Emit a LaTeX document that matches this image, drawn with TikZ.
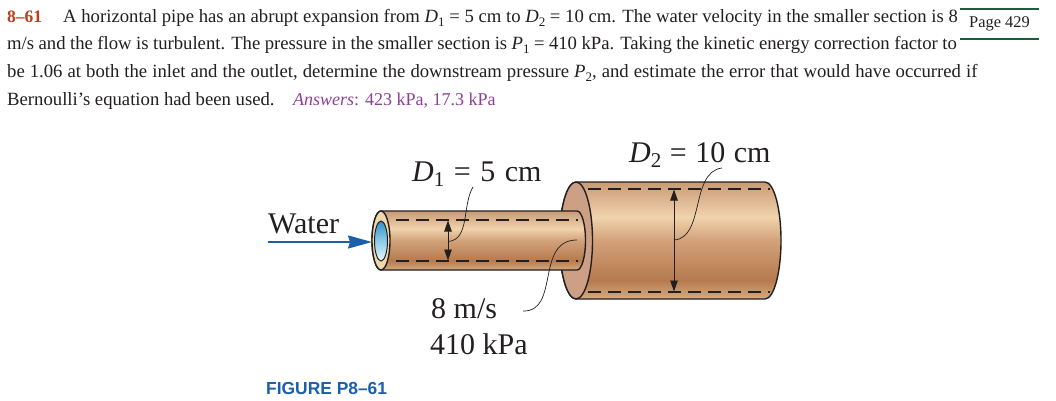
\documentclass[tikz,border=0pt]{standalone}
\usepackage{fontspec}
\setmainfont{Liberation Serif}
\setsansfont{Liberation Sans}
\usetikzlibrary{arrows.meta}
\definecolor{redh}{HTML}{B5401E}
\definecolor{purp}{HTML}{8E3F96}
\definecolor{pgreen}{HTML}{1C5C3C}
\definecolor{fblue}{HTML}{1B5FAA}
\definecolor{ink}{HTML}{231F20}
\definecolor{face}{HTML}{CDA085}
\definecolor{ring}{HTML}{EFD9AC}
\definecolor{cuA}{HTML}{D4AC80}
\definecolor{cuB}{HTML}{B67A4E}
\definecolor{cuC}{HTML}{D2A27A}
\definecolor{cuD}{HTML}{F0D3AC}
\definecolor{cuE}{HTML}{C99A76}
\definecolor{wLight}{HTML}{E8F6FA}
\definecolor{wMid}{HTML}{8ECDE8}
\definecolor{wDark}{HTML}{2F8FC8}
\pgfdeclareverticalshading{copper}{100bp}{
 color(0bp)=(cuA);
 color(25bp)=(cuA); color(33bp)=(cuB); color(50bp)=(cuC); color(60bp)=(cuD); color(75bp)=(cuE); color(100bp)=(cuE)}
\pgfdeclareverticalshading{waterglass}{100bp}{
 color(0bp)=(wLight); color(25bp)=(wLight); color(50bp)=(wMid); color(75bp)=(wDark); color(100bp)=(wDark)}
\newcommand{\lowered}[2][13]{\raisebox{-.4ex}{\fontsize{#1}{#1}\selectfont #2}}
\tikzset{
 x=1pt,y=-1pt,
 textline/.style={anchor=base west,inner sep=0pt,font=\fontsize{18.7}{22}\selectfont,text=ink},
 figlabel/.style={anchor=base west,inner sep=0pt,font=\fontsize{30}{34}\selectfont,text=ink},
 outline/.style={draw=ink,line width=1.4pt,line join=round},
 hidden/.style={draw=ink,line width=1.4pt,dash pattern=on 13pt off 7pt},
 dimarrow/.style={draw=ink,line width=.9pt,{Triangle[length=11pt,width=7.5pt]}-{Triangle[length=11pt,width=7.5pt]}},
 leader/.style={draw=ink,line width=.7pt},
 pagerule/.style={draw=pgreen,line width=1.4pt},
}
\begin{document}
\begin{tikzpicture}
\useasboundingbox (0,0) rectangle (1056,401);
\fill[white] (0,0) rectangle (1056,401);
% problem text
\node[textline,text=redh,font=\fontsize{17.5}{22}\selectfont\bfseries] (num) at (7,23) {8--61};
\node[textline] (l1) at (63,23) {A horizontal pipe has an abrupt expansion from \textit{D}\lowered{1} = 5 cm to \textit{D}\lowered{2} = 10 cm. The water velocity in the smaller section is 8};
\node[textline] (l2) at (7,50) {\spaceskip=4.45pt m/s and the flow is turbulent. The pressure in the smaller section is \textit{P}\lowered{1} = 410 kPa. Taking the kinetic energy correction factor to};
\node[textline] (l3) at (7,78) {\spaceskip=5.03pt be 1.06 at both the inlet and the outlet, determine the downstream pressure \textit{P}\lowered{2}, and estimate the error that would have occurred if};
\node[textline] (l4) at (7,106) {Bernoulli's equation had been used.};
\node[textline,text=purp,font=\fontsize{18}{22}\selectfont] (ans) at (293,106) {\textit{Answers}: 423 kPa, 17.3 kPa};
% page marker
\coordinate (pa) at (960,9); \coordinate (pb) at (1039,9);
\coordinate (pc) at (960,39); \coordinate (pd) at (1039,39);
\draw[pagerule] (pa) -- (pb);
\draw[pagerule] (pc) -- (pd);
\node[anchor=base west,inner sep=0pt,font=\fontsize{16.4}{18}\selectfont,text=ink] (pg) at (969,28) {Page 429};
% large pipe
\path[shading=copper,outline] (576,182) -- (765,182) arc[start angle=90,end angle=-90,x radius=16pt,y radius=58.5pt] -- (576,299) arc[start angle=-90,end angle=-270,x radius=16.5pt,y radius=58.5pt] -- cycle;
\draw[outline,fill=face] (576,240.5) ellipse[x radius=16.5pt,y radius=58.5pt];
\draw[hidden] (588,189) -- (770,189);
\draw[hidden] (588,292) -- (770,292);
% small pipe
\path[shading=copper,outline] (381,211) -- (577,211) arc[start angle=90,end angle=-90,x radius=8.5pt,y radius=29.5pt] -- (381,270) arc[start angle=-90,end angle=-270,x radius=9pt,y radius=29.5pt] -- cycle;
\draw[outline,fill=ring] (381,240.5) ellipse[x radius=9pt,y radius=29.5pt];
\path[shading=waterglass,draw=ink,line width=1pt] (381,241) ellipse[x radius=6.5pt,y radius=20pt];
\draw[hidden] (396,220) -- (578,220);
\draw[hidden] (396,261) -- (578,261);
% dimensions
\coordinate (s1) at (448,220.5); \coordinate (s2) at (448,260.5);
\coordinate (b1) at (674,189.5); \coordinate (b2) at (674,291.5);
\draw[dimarrow] (s1) -- (s2);
\draw[dimarrow] (b1) -- (b2);
% labels
\node[figlabel] (water) at (268,233) {Water};
\node[figlabel] (d1) at (412,181) {\spaceskip=9.5pt \textit{D}\lowered[21]{1} = 5 cm};
\node[figlabel] (d2) at (629,162) {\spaceskip=8.5pt \textit{D}\lowered[21]{2} = 10 cm};
\node[figlabel] (vel) at (431,318) {8 m/s};
\node[figlabel] (pres) at (430,354) {410 kPa};
\node[anchor=base west,inner sep=0pt,font=\sffamily\bfseries\fontsize{17.4}{20}\selectfont,text=fblue] (fig) at (266,394) {FIGURE P8--61};
% water arrow
\coordinate (wa) at (268,242); \coordinate (wb) at (372,242);
\draw[draw=fblue,line width=1.8pt,-{Stealth[length=24pt,width=13pt,inset=2pt]}] (wa) -- (wb);
% leaders
\coordinate (ld1s) at (448,241.5); \coordinate (ld1e) at (473,187);
\draw[leader] (ld1s) .. controls (470,240) and (462,205) .. (ld1e);
\coordinate (ld2s) at (674,240); \coordinate (ld2e) at (722,168);
\draw[leader] (ld2s) .. controls (705,238) and (690,172) .. (ld2e);
\coordinate (ld3s) at (577,240); \coordinate (ld3e) at (523,311);
\draw[leader] (ld3s) .. controls (535,240) and (560,312) .. (ld3e);
\end{tikzpicture}
\end{document}
